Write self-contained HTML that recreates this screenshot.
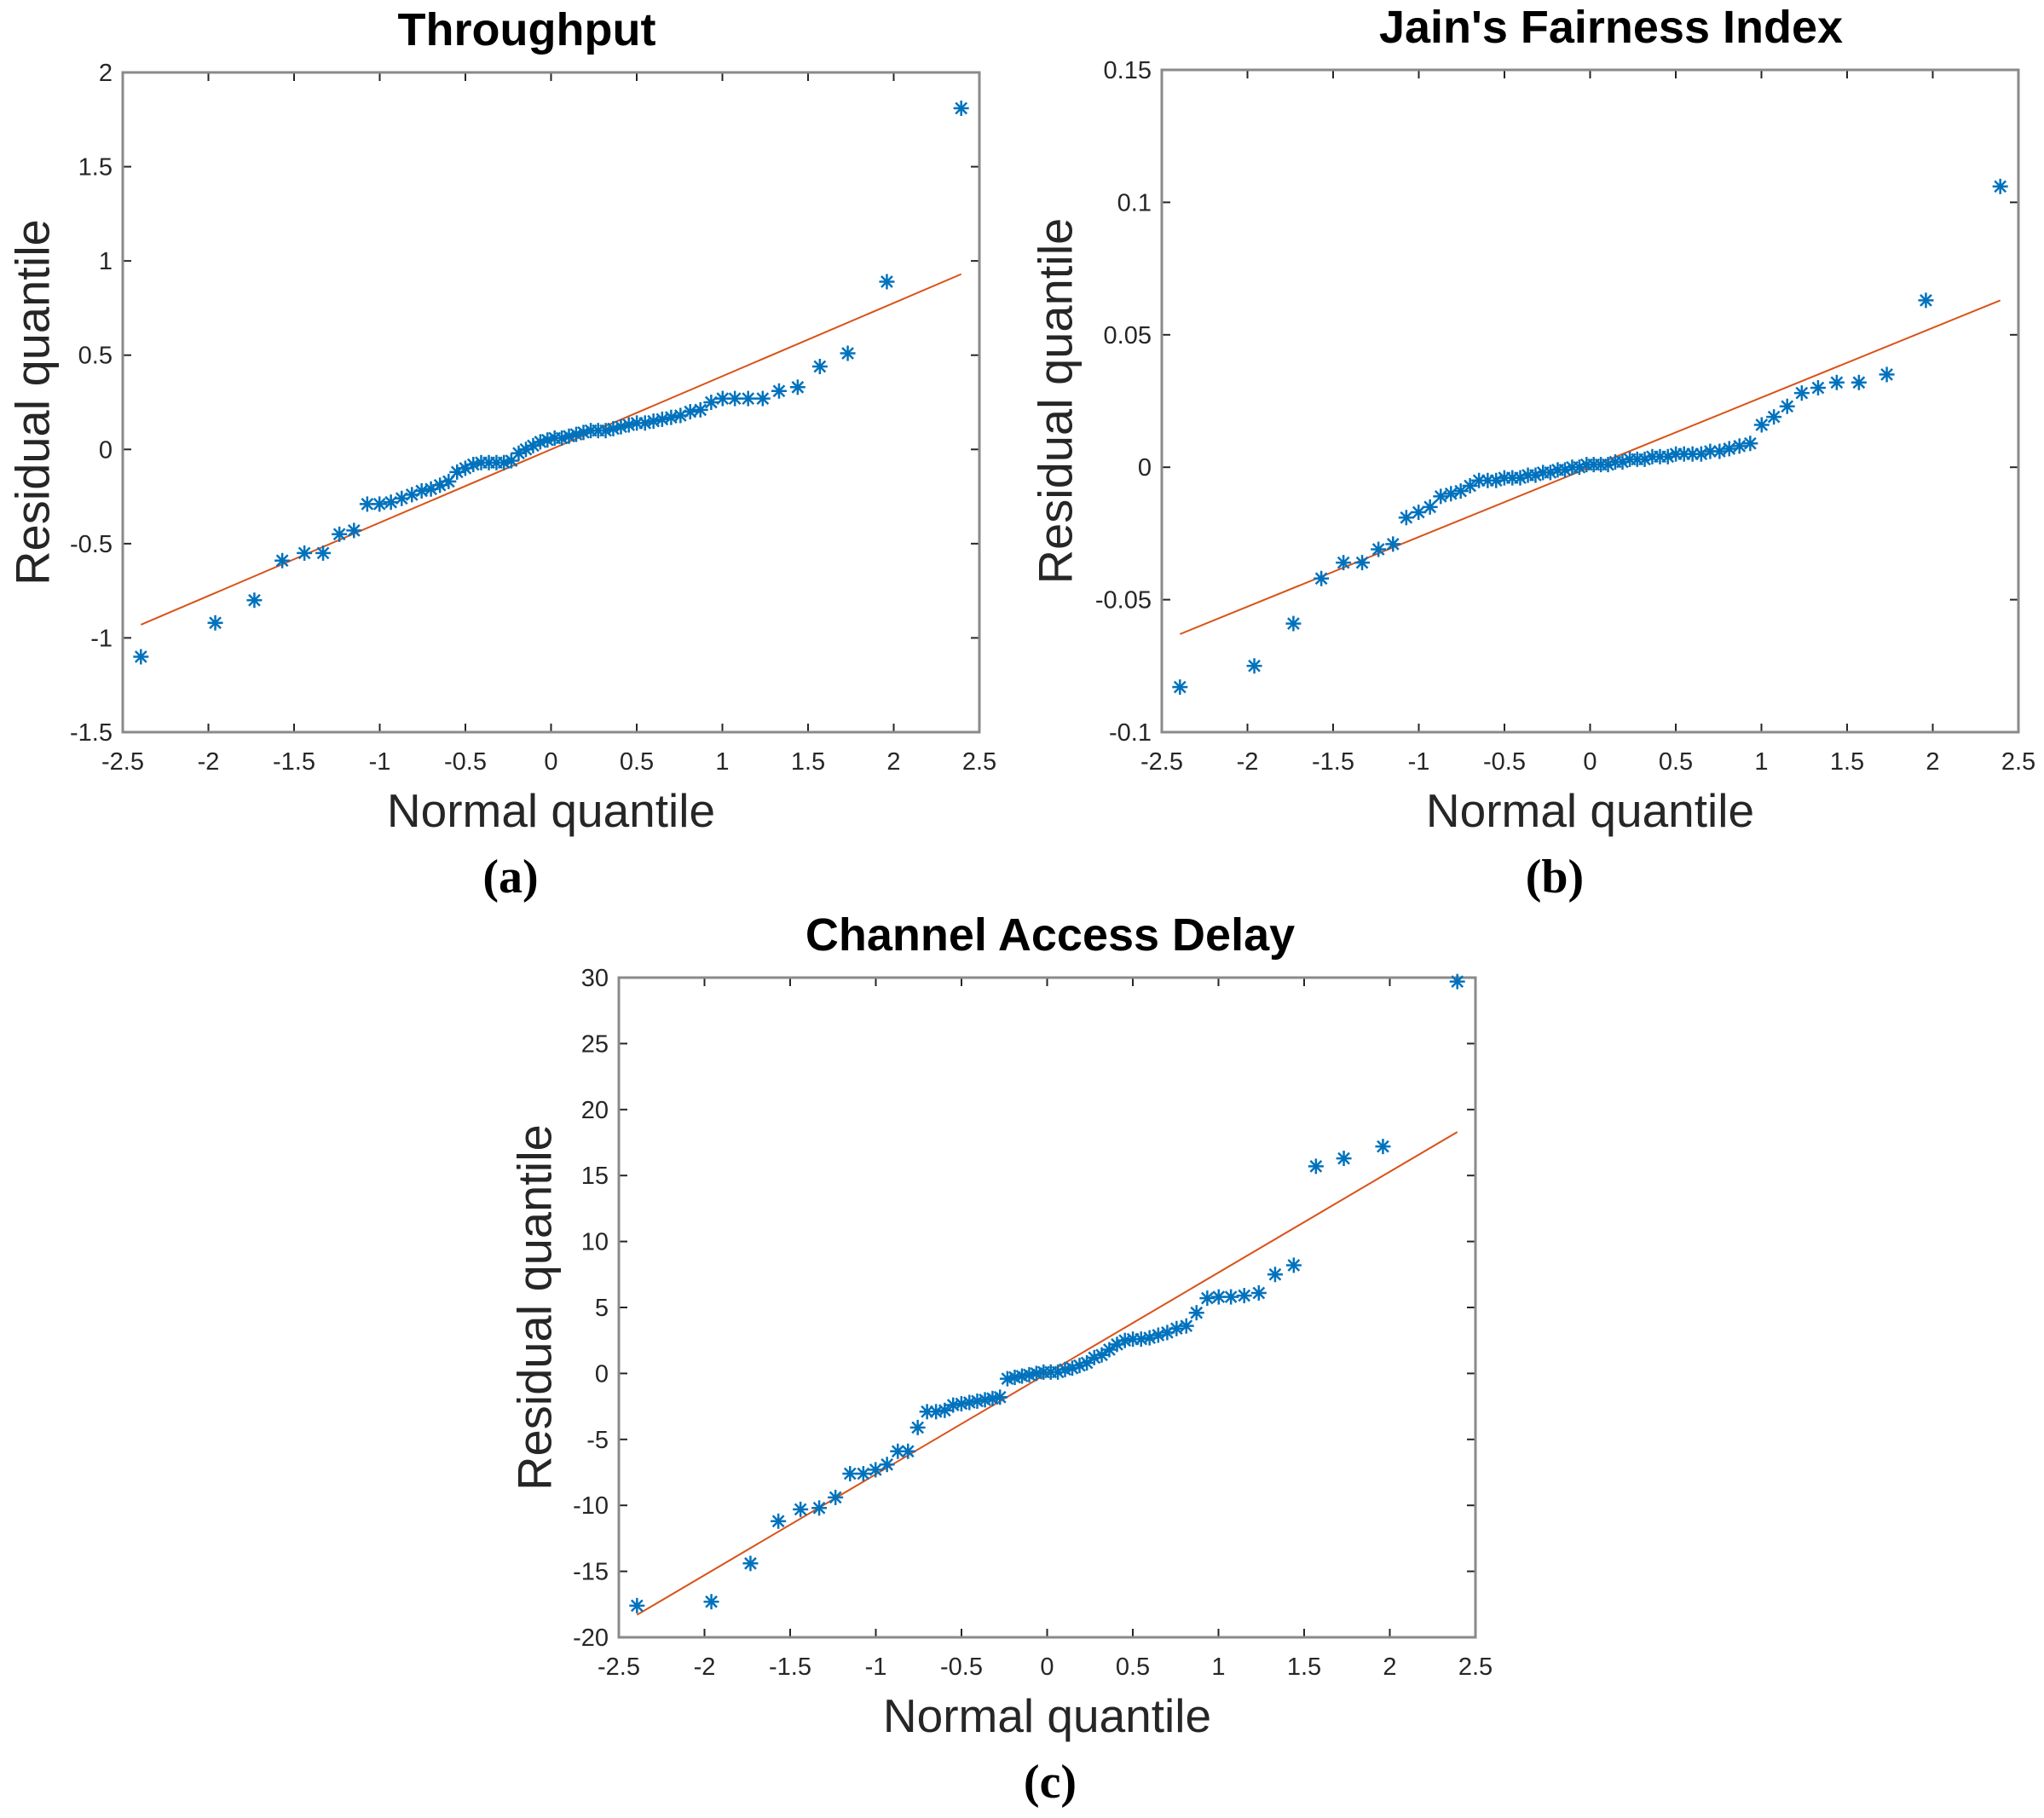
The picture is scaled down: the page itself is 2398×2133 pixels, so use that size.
<!DOCTYPE html>
<html><head><meta charset="utf-8">
<style>
html,body{margin:0;padding:0;background:#fff;}
svg{display:block;}
</style></head>
<body>
<svg id="s" xmlns="http://www.w3.org/2000/svg" width="2398" height="2133" viewBox="0 0 2398 2133"></svg>
<script>
function ninv(p){var a=[-39.6968302866538,220.946098424521,-275.928510446969,138.357751867269,-30.6647980661472,2.50662827745924],b=[-54.4760987982241,161.585836858041,-155.698979859887,66.8013118877197,-13.2806815528857],c=[-0.00778489400243029,-0.322396458041136,-2.40075827716184,-2.54973253934373,4.37466414146497,2.93816398269878],d=[0.00778469570904146,0.32246712907004,2.445134137143,3.75440866190742];var q,r;if(p<0.02425){q=Math.sqrt(-2*Math.log(p));return(((((c[0]*q+c[1])*q+c[2])*q+c[3])*q+c[4])*q+c[5])/((((d[0]*q+d[1])*q+d[2])*q+d[3])*q+1);}if(p>1-0.02425){q=Math.sqrt(-2*Math.log(1-p));return-(((((c[0]*q+c[1])*q+c[2])*q+c[3])*q+c[4])*q+c[5])/((((d[0]*q+d[1])*q+d[2])*q+d[3])*q+1);}q=p-0.5;r=q*q;return(((((a[0]*r+a[1])*r+a[2])*r+a[3])*r+a[4])*r+a[5])*q/(((((b[0]*r+b[1])*r+b[2])*r+b[3])*r+b[4])*r+1);}
var X=[];for(var i=1;i<=60;i++)X.push(ninv((i-0.5)/60));
var A=[-1.1,-0.92,-0.8,-0.59,-0.55,-0.55,-0.45,-0.43,-0.29,-0.29,-0.28,-0.26,-0.24,-0.22,-0.21,-0.19,-0.17,-0.12,-0.1,-0.08,-0.07,-0.07,-0.07,-0.07,-0.06,-0.02,0.0,0.02,0.04,0.05,0.06,0.06,0.07,0.08,0.09,0.1,0.1,0.1,0.11,0.12,0.13,0.14,0.14,0.15,0.16,0.17,0.18,0.2,0.21,0.25,0.27,0.27,0.27,0.27,0.31,0.33,0.44,0.51,0.89,1.81];
var B=[-0.083,-0.075,-0.059,-0.042,-0.036,-0.036,-0.031,-0.029,-0.019,-0.017,-0.015,-0.011,-0.010,-0.009,-0.007,-0.005,-0.005,-0.005,-0.004,-0.004,-0.004,-0.003,-0.003,-0.002,-0.002,-0.001,-0.001,0,0,0.001,0.001,0.001,0.001,0.002,0.002,0.003,0.003,0.003,0.004,0.004,0.004,0.005,0.005,0.005,0.005,0.006,0.006,0.007,0.008,0.009,0.016,0.019,0.023,0.028,0.030,0.032,0.032,0.035,0.041,0.063,0.106];
B=B.slice(0,60);B[59]=0.106;B[58]=0.063;
var C=[-17.6,-17.3,-14.4,-11.2,-10.3,-10.2,-9.4,-7.6,-7.6,-7.3,-6.9,-5.9,-5.9,-4.1,-2.9,-2.9,-2.8,-2.4,-2.3,-2.2,-2.1,-2.0,-1.9,-1.8,-0.4,-0.3,-0.2,-0.1,0.0,0.1,0.1,0.1,0.3,0.4,0.6,0.8,1.2,1.4,1.8,2.2,2.5,2.6,2.6,2.7,2.9,3.1,3.4,3.6,4.6,5.7,5.8,5.8,5.9,6.1,7.5,8.2,15.7,16.3,17.2,29.7];
var out='';
function T(x,y,s,sz,anc,extra){return '<text x="'+x+'" y="'+y+'" font-size="'+sz+'" text-anchor="'+(anc||'middle')+'" '+(extra||'')+'>'+s+'</text>';}
function plot(L,R,Tp,Bt,ymin,ymax,yt,data,line,title,tx,tag,tgx,ylx){
 var sx=function(v){return L+(v+2.5)/5*(R-L)},sy=function(v){return Bt-(v-ymin)/(ymax-ymin)*(Bt-Tp)};
 var g='<g font-family="Liberation Sans, Arial, sans-serif" fill="#262626">';
 for(var k=0;k<=10;k++){var xv=-2.5+k*0.5,px=sx(xv);g+='<line x1="'+px+'" y1="'+Bt+'" x2="'+px+'" y2="'+(Bt-10)+'" stroke="#262626" stroke-width="2"/><line x1="'+px+'" y1="'+Tp+'" x2="'+px+'" y2="'+(Tp+10)+'" stroke="#262626" stroke-width="2"/>';g+=T(px,Bt+44,(Math.round(xv*10)/10).toString(),29);}
 yt.forEach(function(v){var py=sy(v);g+='<line x1="'+L+'" y1="'+py+'" x2="'+(L+10)+'" y2="'+py+'" stroke="#262626" stroke-width="2"/><line x1="'+R+'" y1="'+py+'" x2="'+(R-10)+'" y2="'+py+'" stroke="#262626" stroke-width="2"/>';g+=T(L-12,py+10,String(v),29,'end');});
 g+='<rect x="'+L+'" y="'+Tp+'" width="'+(R-L)+'" height="'+(Bt-Tp)+'" fill="none" stroke="#8a8a8a" stroke-width="3"/>';
 g+='<line x1="'+sx(X[0])+'" y1="'+sy(-line)+'" x2="'+sx(X[59])+'" y2="'+sy(line)+'" stroke="#D95319" stroke-width="2"/>';
 for(var i=0;i<60;i++){var px=sx(X[i]),py=sy(data[i]),r=9;g+='<g stroke="#0072BD" stroke-width="2.5"><line x1="'+(px-r)+'" y1="'+py+'" x2="'+(px+r)+'" y2="'+py+'"/><line x1="'+px+'" y1="'+(py-r)+'" x2="'+px+'" y2="'+(py+r)+'"/><line x1="'+(px-6.5)+'" y1="'+(py-6.5)+'" x2="'+(px+6.5)+'" y2="'+(py+6.5)+'"/><line x1="'+(px-6.5)+'" y1="'+(py+6.5)+'" x2="'+(px+6.5)+'" y2="'+(py-6.5)+'"/></g>';}
 g+=T((L+R)/2,Bt+111,'Normal quantile',55);
 var cy=(Tp+Bt)/2;g+='<text x="'+ylx+'" y="'+cy+'" font-size="56" text-anchor="middle" dominant-baseline="central" transform="rotate(-90 '+ylx+' '+cy+')">Residual quantile</text>';
 g+='<text x="'+tx+'" y="'+(Tp-32)+'" font-size="54" font-weight="bold" text-anchor="middle" fill="#000">'+title+'</text>';
 g+='<text x="'+tgx+'" y="'+(Bt+188)+'" font-size="56" font-weight="bold" text-anchor="middle" fill="#000" font-family="Liberation Serif, serif">'+tag+'</text>';
 return g+'</g>';}
out+=plot(144,1149,85,859,-1.5,2,[-1.5,-1,-0.5,0,0.5,1,1.5,2],A,0.93,'Throughput',618,'(a)',599,38);
out+=plot(1363,2368,82,859,-0.1,0.15,[-0.1,-0.05,0,0.05,0.1,0.15],B,0.063,"Jain's Fairness Index",1890,'(b)',1824,1238);
out+=plot(726,1731,1147,1921,-20,30,[-20,-15,-10,-5,0,5,10,15,20,25,30],C,18.3,'Channel Access Delay',1232,'(c)',1232,627);
document.getElementById('s').innerHTML=out;
</script>
</body></html>
